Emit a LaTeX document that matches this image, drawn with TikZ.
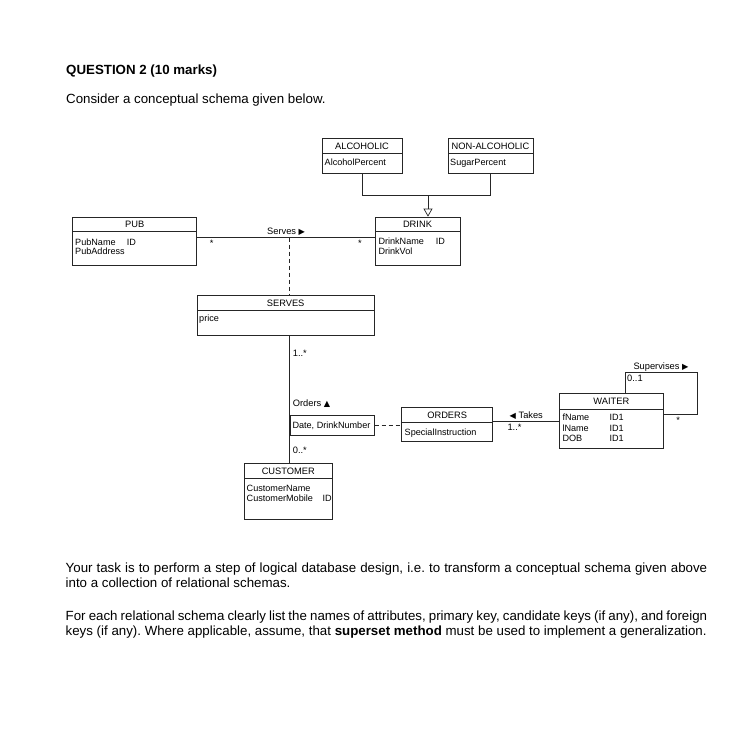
\documentclass[tikz,border=0pt]{standalone}
\usepackage{fontspec}
\setmainfont{Liberation Sans}
\newfontfamily\symfont{DejaVu Sans}
\usetikzlibrary{arrows.meta}
\usetikzlibrary{positioning}
\newcommand{\arr}[1]{{\symfont\fontsize{8.2}{9}\selectfont #1}}
\frenchspacing
\tikzset{
  classbox/.style={draw=black!85, line width=0.7pt, inner sep=0pt, fill=white},
  hdr/.style={font=\fontsize{9.3}{10}\selectfont, inner sep=0pt},
  attr/.style={font=\fontsize{9.1}{10}\selectfont, inner sep=0pt, anchor=base west},
  lbl/.style={font=\fontsize{9.3}{10}\selectfont, inner sep=0pt, anchor=base west},
  link/.style={draw=black!85, line width=0.7pt},
  dashlink/.style={link, dash pattern=on 4pt off 3pt},
  body/.style={font=\fontsize{13.3}{15.2}\selectfont, inner sep=0pt, anchor=base west},
}

\begin{document}
\begin{tikzpicture}[x=1pt,y=-1pt]
    \useasboundingbox (0,0) rectangle (756,752);
    \node[body, font=\fontsize{13.3}{15.2}\selectfont\bfseries] (question) at (66,74.5) {QUESTION 2 (10 marks)};
    \node[body] (intro) at (66,103) {Consider a conceptual schema given below.};
    % Klassen: Name / links / oben / rechts / unten / Kopflinie / Titel
    \foreach \name/\xa/\ya/\xb/\yb/\yh/\title in
    {
      alcoholic/322/138.5/402/173/153.3/ALCOHOLIC,
      nonalcoholic/448/138.5/533/173/153.3/NON-ALCOHOLIC,
      pub/72.7/217/196.7/265/231.7/PUB,
      drink/375/217/460/265/231.7/DRINK,
      serves/197/295/374.3/335/310.7/SERVES,
      customer/244.3/463.3/332.3/519.3/478.3/CUSTOMER,
      orders/401.7/407.3/492.7/441.7/422.5/ORDERS,
      waiter/559/393/663.7/448.5/409.5/WAITER
    }
    {
      \pgfmathsetmacro\w{\xb-\xa}
      \pgfmathsetmacro\h{\yb-\ya}
      \node[classbox, minimum width=\w pt, minimum height=\h pt] (\name) at ({(\xa+\xb)/2},{(\ya+\yb)/2}) {};
      \draw[link] (\xa,\yh) -- (\xb,\yh);  %Kopflinie
      \node[hdr] (\name-title) at ({(\xa+\xb)/2},{(\ya+\yh)/2}) {\title};
    };
    \node[classbox, minimum width=84.3pt, minimum height=20pt] (ordersattr) at (332.15,425) {};  %Attribute der Assoziation

    % Attribute
    \node[attr] (alcpercent) at (324.5,165.5) {AlcoholPercent};
    \node[attr] (sugpercent) at (450,165.5) {SugarPercent};
    \node[attr] (pubname) at (75,245) {PubName};
    \node[attr] (pubid) at (126.7,245) {ID};
    \node[attr] (pubaddress) at (75,254.5) {PubAddress};
    \node[attr] (drinkname) at (378.3,244.5) {DrinkName};
    \node[attr] (drinkid) at (435.7,244.5) {ID};
    \node[attr] (drinkvol) at (378.3,254.5) {DrinkVol};
    \node[attr] (price) at (199,321) {price};
    \node[attr] (datenumber) at (292.3,428.5) {Date, DrinkNumber};
    \node[attr] (custname) at (246.5,491.5) {CustomerName};
    \node[attr] (custmobile) at (246.5,501.5) {CustomerMobile};
    \node[attr] (custid) at (322.5,501.5) {ID};
    \node[attr] (special) at (404.5,435) {SpecialInstruction};
    \foreach \attrname/\y in {fName/420.5, lName/431, DOB/441.5}
    {
      \node[attr] (waiter-\attrname) at (562.3,\y) {\attrname};
      \node[attr] (waiter-\attrname-id) at (609.3,\y) {ID1};
    };

    % Generalisierung
    \coordinate (genjoin) at (428,195);
    \draw[link] (alcoholic.south) |- (nonalcoholic.south |- genjoin) -- (nonalcoholic.south);
    \draw[link, -{Triangle[open, width=9pt, length=8pt]}] (genjoin) -- (genjoin |- drink.north);

    % Serves
    \coordinate (assoc) at (289.5,237.7);
    \draw[link] (pub.east |- assoc) -- (drink.west |- assoc);
    \draw[dashlink] (assoc) -- (assoc |- serves.north);
    \node[lbl] (serveslbl) at (267,234) {Serves \arr{▶}};
    \node[lbl, anchor=base] (pubmult) at (211.7,246) {*};
    \node[lbl, anchor=base] (drinkmult) at (360,246) {*};

    % Orders
    \draw[link] (serves.south -| ordersattr.west) -- (customer.north -| ordersattr.west);
    \draw[dashlink] (ordersattr.east) -- (orders.west |- ordersattr.east);
    \node[lbl] (servesmult) at (292.7,356) {1..*};
    \node[lbl] (orderslbl) at (292.7,406) {Orders \arr{▲}};
    \node[lbl] (custmult) at (292.7,453) {0..*};

    % Takes
    \coordinate (takesy) at (0,421.7);
    \draw[link] (orders.east |- takesy) -- (waiter.west |- takesy);
    \node[lbl] (takeslbl) at (509.5,418.3) {\arr{◀} Takes};
    \node[lbl] (takesmult) at (507.3,430) {1..*};

    % Supervises
    \coordinate (supA) at (625,372.3);
    \coordinate (supB) at (697.7,414.3);
    \draw[link] (waiter.north -| supA) -- (supA) -| (supB) -- (waiter.east |- supB);
    \node[lbl] (superlbl) at (633.3,369) {Supervises \arr{▶}};
    \node[lbl] (supermult) at (627,381.7) {0..1};
    \node[lbl, anchor=base] (subordmult) at (678.3,423) {*};

    % Aufgabentext
    \node[body, text width=641.5pt, align=justify] (task) at (65.5,572.5)
      {Your task is to perform a step of logical database design, i.e. to transform a conceptual schema given above\linebreak into a collection of relational schemas.};
    \node[body, text width=641.5pt, align=justify] (keys) at (65.5,620.5)
      {For each relational schema clearly list the names of attributes, primary key, candidate keys (if any), and foreign\linebreak keys (if any). Where applicable, assume, that \textbf{superset method} must be used to implement a generalization.};
\end{tikzpicture}
\end{document}
